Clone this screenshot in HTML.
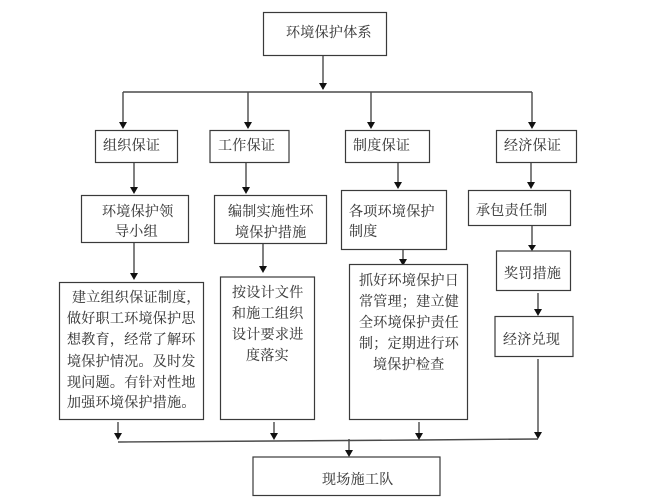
<!DOCTYPE html>
<html lang="zh-CN"><head><meta charset="utf-8"><style>
html,body{margin:0;padding:0;background:#fff;width:645px;height:501px;overflow:hidden}
svg{display:block;filter:blur(.3px)}
text{font-family:"Liberation Serif","Noto Serif CJK SC",serif;font-size:14px;letter-spacing:.3px;fill:#3a3a3a;stroke:#3a3a3a;stroke-width:.1px}
rect{fill:#fff;stroke:#3a3a3a;stroke-width:1.2}
.l{stroke:#4a4a4a;stroke-width:1.4;fill:none}
.a{fill:#111;stroke:none}
</style></head><body>
<svg width="645" height="501" viewBox="0 0 645 501" xmlns="http://www.w3.org/2000/svg">
<path class="l" d="M323 56V89M123 92H532M123 92V126M248 92V126M371 92V126M532 92V126M134 162V190M246 162V190M398 162V186M531 162V186M134 242V273M263 243V268M403 249V260M532 225V248M538 293V312M538 359V435M118 422V435M274 422V435M419 422V435M349 439V452M118 442L274 441L419 440L538 439"/>
<g class="a">
<path d="M319 83h8l-4 7zM119 122h8l-4 7zM244 122h8l-4 7zM367 122h8l-4 7zM528 122h8l-4 7z"/>
<path d="M130 187h8l-4 7zM242 187h8l-4 7zM394 182h8l-4 7zM527 182h8l-4 7z"/>
<path d="M130 273h8l-4 7zM259 266h8l-4 7zM399 259h8l-4 7zM528 245h8l-4 6zM534 309h8l-4 7zM534 432h8l-4 7z"/>
<path d="M114 433h8l-4 7zM270 433h8l-4 7zM415 433h8l-4 7zM345 450h8l-4 7z"/>
</g>
<rect x="263.5" y="12.5" width="123" height="43"/>
<rect x="95.5" y="130.5" width="82" height="32"/>
<rect x="210" y="130.5" width="79" height="32"/>
<rect x="345.5" y="130.5" width="84" height="32"/>
<rect x="496.5" y="130.5" width="80" height="32"/>
<rect x="81.5" y="195.5" width="107" height="47"/>
<rect x="214.5" y="195.5" width="112" height="48"/>
<rect x="341.5" y="190.5" width="105" height="59"/>
<rect x="468.5" y="190.5" width="102" height="35"/>
<rect x="496.5" y="251" width="74" height="39.5"/>
<rect x="495" y="316.5" width="78" height="40"/>
<rect x="59.5" y="282.5" width="144" height="137"/>
<rect x="220.5" y="277" width="94" height="142.5"/>
<rect x="349.5" y="264.5" width="118" height="155"/>
<rect x="253" y="457" width="187" height="38.5"/>
<text x="286" y="37">环境保护体系</text>
<text x="103" y="150">组织保证</text>
<text x="218" y="150">工作保证</text>
<text x="353" y="150">制度保证</text>
<text x="504" y="150">经济保证</text>
<text x="102" y="216">环境保护领</text>
<text x="115" y="236">导小组</text>
<text x="228" y="216">编制实施性环</text>
<text x="235" y="237">境保护措施</text>
<text x="349" y="216">各项环境保护</text>
<text x="349" y="236">制度</text>
<text x="476" y="215">承包责任制</text>
<text x="504" y="278">奖罚措施</text>
<text x="503" y="344">经济兑现</text>
<text x="72" y="302">建立组织保证制度&#xFF0C;</text>
<text x="67" y="323">做好职工环境保护思</text>
<text x="67" y="344">想教育&#xFF0C;经常了解环</text>
<text x="67" y="366">境保护情况。及时发</text>
<text x="67" y="387">现问题。有针对性地</text>
<text x="67" y="407">加强环境保护措施。</text>
<text x="232" y="297">按设计文件</text>
<text x="232" y="318">和施工组织</text>
<text x="232" y="339">设计要求进</text>
<text x="246" y="360">度落实</text>
<text x="359" y="285">抓好环境保护日</text>
<text x="359" y="306">常管理&#xFF1B;建立健</text>
<text x="359" y="327">全环境保护责任</text>
<text x="359" y="348">制&#xFF1B;定期进行环</text>
<text x="373" y="369">境保护检查</text>
<text x="322" y="484">现场施工队</text>
</svg>
</body></html>
